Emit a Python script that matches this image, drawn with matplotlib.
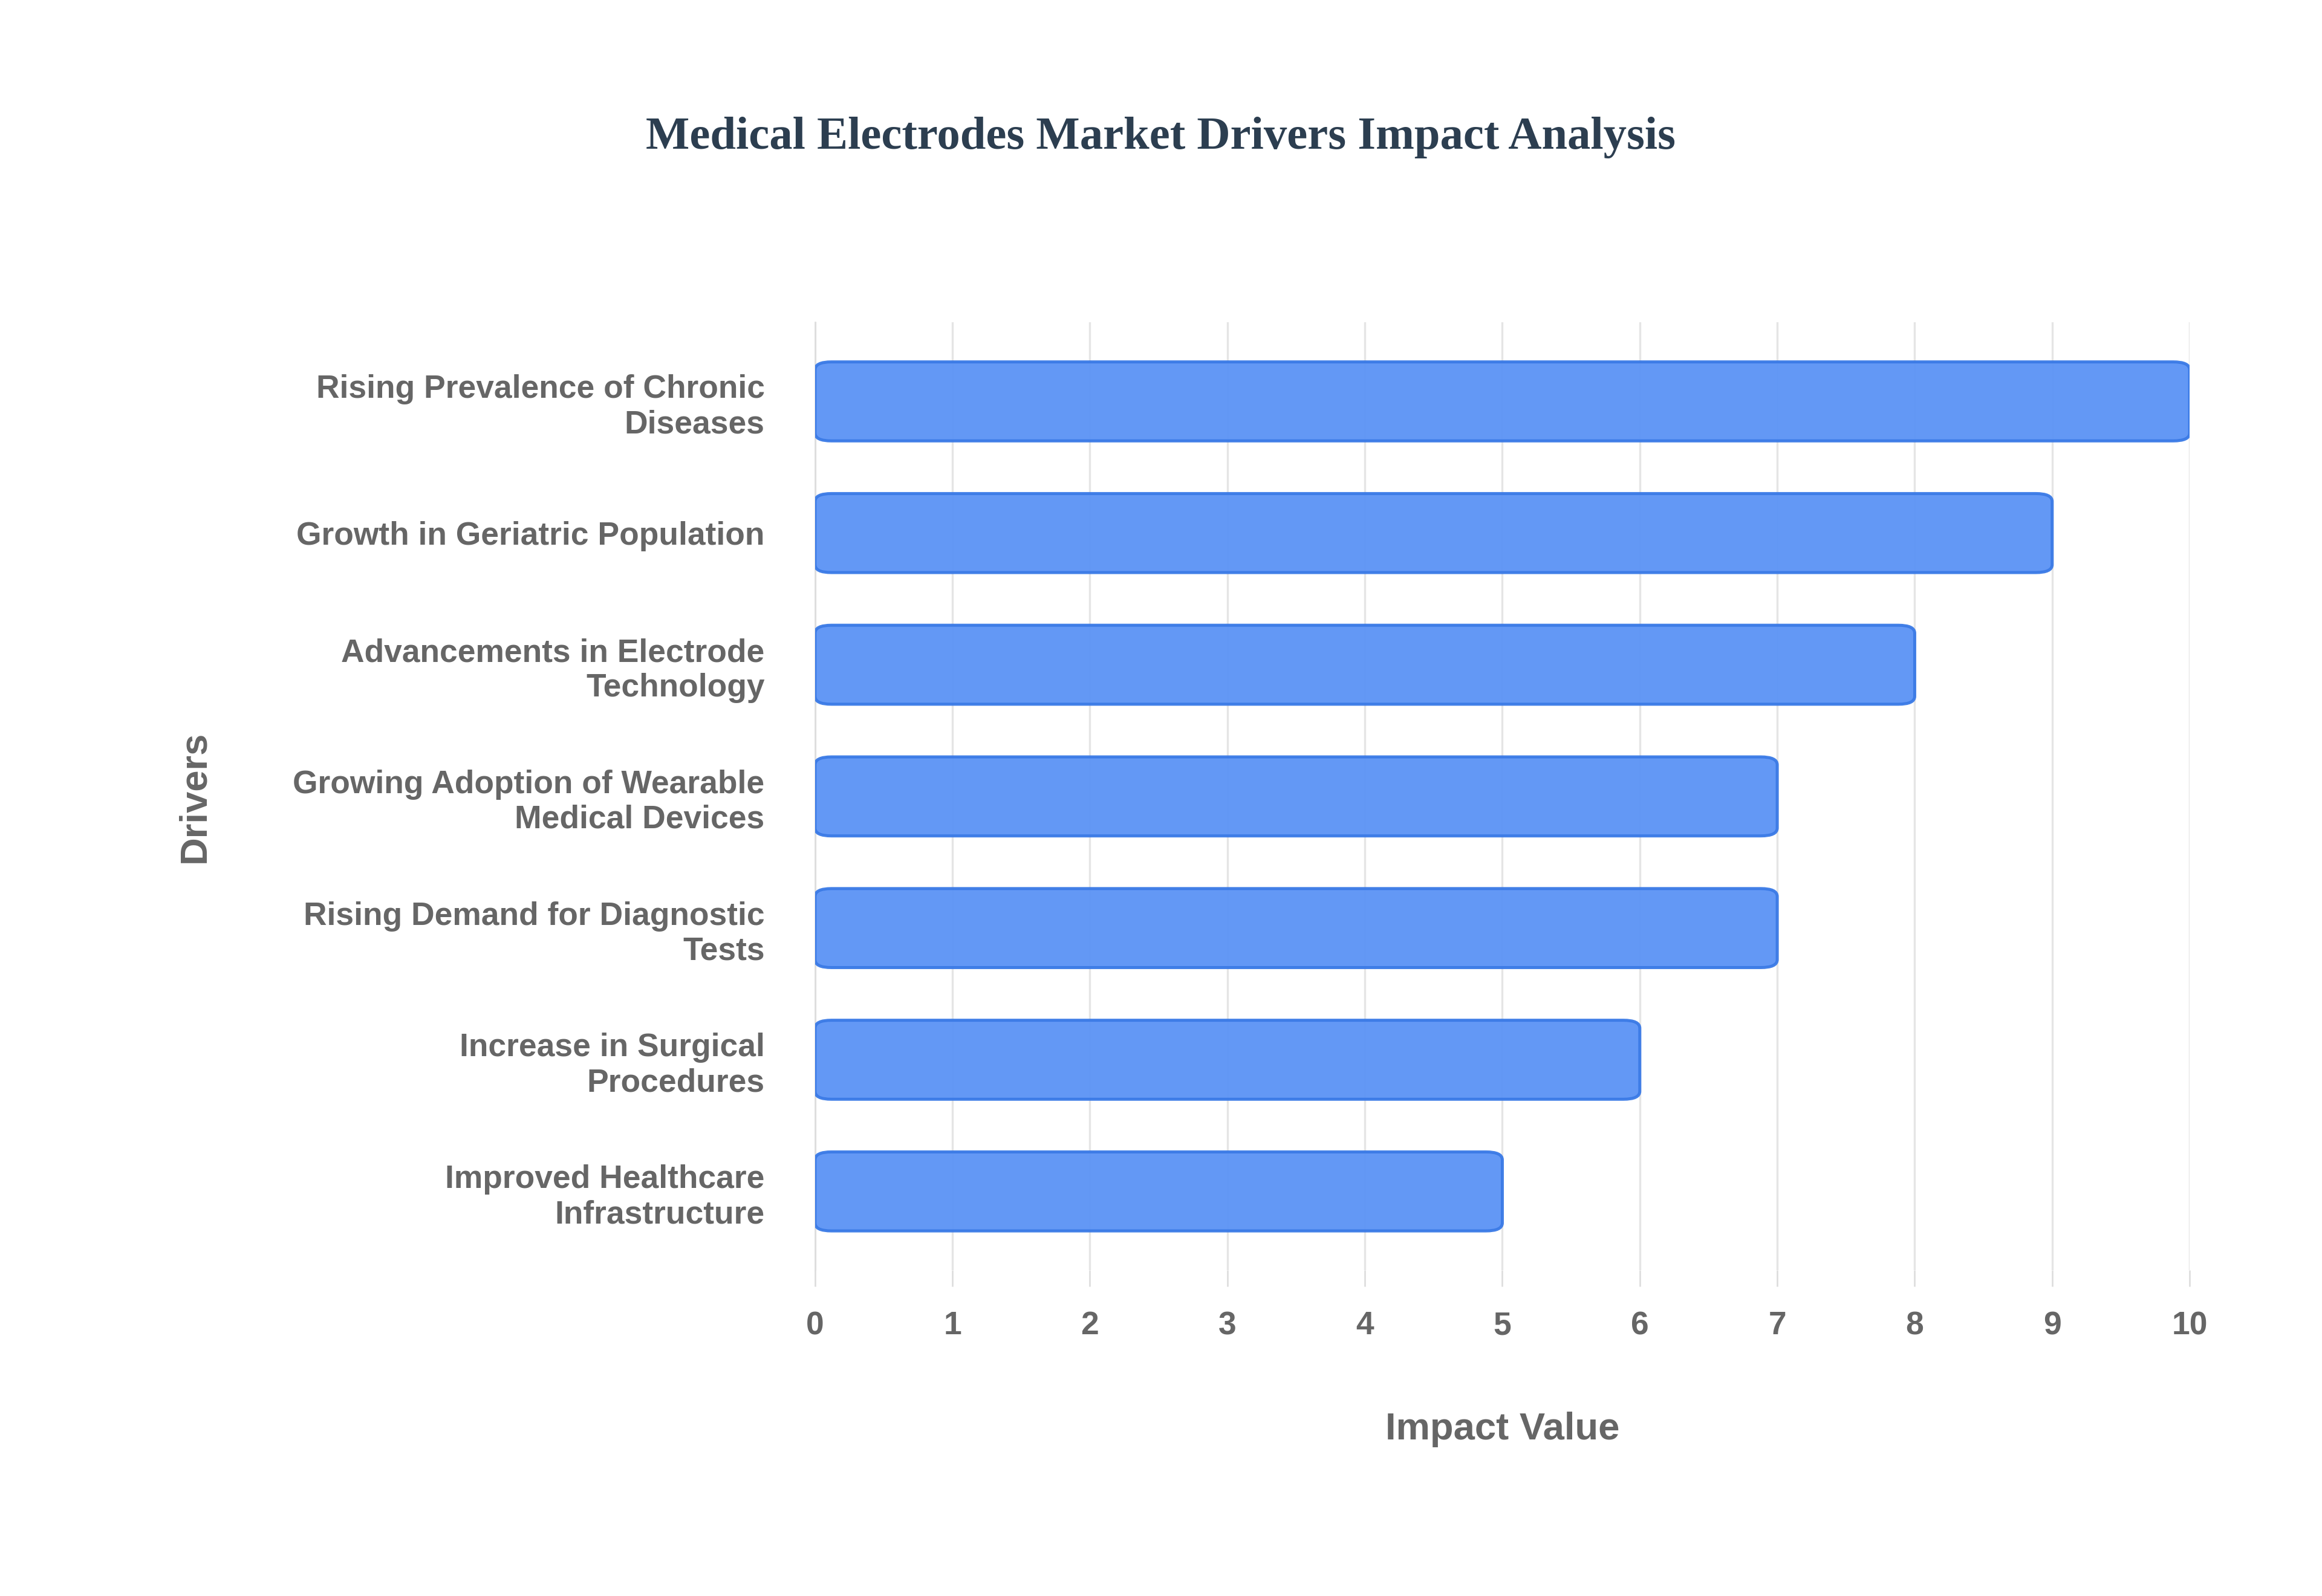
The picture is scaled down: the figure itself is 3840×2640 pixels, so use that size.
import matplotlib
matplotlib.use("Agg")
import matplotlib.pyplot as plt
from matplotlib.patches import FancyBboxPatch

drivers = ["Rising Prevalence of Chronic\nDiseases", "Growth in Geriatric Population",
           "Advancements in Electrode\nTechnology", "Growing Adoption of Wearable\nMedical Devices",
           "Rising Demand for Diagnostic\nTests", "Increase in Surgical\nProcedures",
           "Improved Healthcare\nInfrastructure"]
impact = [10, 9, 8, 7, 7, 6, 5]
ticks = list(range(0, 11))

fig = plt.figure(figsize=(16, 11), dpi=240)
ax = fig.add_axes([0.351, 0.204, 0.592, 0.594])
n = len(drivers)
ys = list(range(n))[::-1]
h = 0.6
for y, v in zip(ys, impact):
    p = FancyBboxPatch((0, y - h/2), v, h, boxstyle="round,pad=0,rounding_size=0.12",
                       mutation_aspect=0.5, facecolor="#5b93f5", alpha=0.95,
                       edgecolor="#3a7ae6", linewidth=1.5, zorder=3)
    ax.add_patch(p)
ax.set_xlim(0, 10)
ax.set_ylim(-0.6, n - 0.4)
ax.set_yticks(ys)
ax.set_yticklabels(drivers, fontsize=16, fontweight="bold", color="#666666", family="Liberation Sans")
ax.set_xticks(ticks)
ax.set_xticklabels([str(t) for t in ticks], fontsize=16, fontweight="bold", color="#666666", family="Liberation Sans")
ax.grid(axis="x", color="#e5e5e5", linewidth=1, zorder=0)
for s in ["top", "right", "bottom"]:
    ax.spines[s].set_visible(False)
ax.spines["left"].set_color("#dddddd")
ax.tick_params(axis="y", length=0, pad=25)
ax.tick_params(axis="x", length=8, color="#dddddd", pad=12)
ax.set_xlabel("Impact Value", fontsize=19, fontweight="bold", color="#666666", family="Liberation Sans", labelpad=35)
ax.set_ylabel("Drivers", fontsize=19, fontweight="bold", color="#666666", family="Liberation Sans", labelpad=40)
fig.text(0.5, 0.914, "Medical Electrodes Market Drivers Impact Analysis", ha="center", va="center",
         fontsize=23, fontweight="bold", color="#2c3e50", family="Liberation Serif")
fig.savefig("out.png", dpi=240, facecolor="white")
